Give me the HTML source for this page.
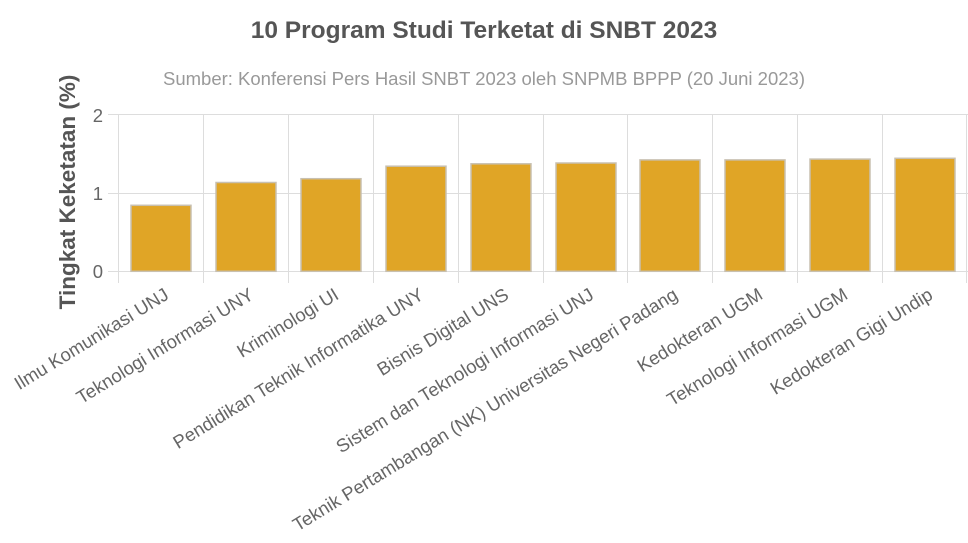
<!DOCTYPE html>
<html><head><style>body{margin:0;background:#fff}svg{display:block}text{font-family:"Liberation Sans",Arial,sans-serif}</style></head>
<body>
<svg width="968" height="543" viewBox="0 0 968 543" xmlns="http://www.w3.org/2000/svg">
<text x="484" y="38" text-anchor="middle" font-size="24.5" font-weight="bold" fill="#555">10 Program Studi Terketat di SNBT 2023</text>
<text x="484" y="85" text-anchor="middle" font-size="18.5" fill="#999">Sumber: Konferensi Pers Hasil SNBT 2023 oleh SNPMB BPPP (20 Juni 2023)</text>
<g stroke="#ddd" stroke-width="1">
<line x1="108" y1="114.5" x2="968" y2="114.5"/>
<line x1="108" y1="193.5" x2="968" y2="193.5"/>
<line x1="108" y1="271.5" x2="968" y2="271.5"/>
<line x1="118.5" y1="114" x2="118.5" y2="283"/>
<line x1="203.5" y1="114" x2="203.5" y2="283"/>
<line x1="288.5" y1="114" x2="288.5" y2="283"/>
<line x1="373.5" y1="114" x2="373.5" y2="283"/>
<line x1="458.5" y1="114" x2="458.5" y2="283"/>
<line x1="543.5" y1="114" x2="543.5" y2="283"/>
<line x1="627.5" y1="114" x2="627.5" y2="283"/>
<line x1="712.5" y1="114" x2="712.5" y2="283"/>
<line x1="797.5" y1="114" x2="797.5" y2="283"/>
<line x1="882.5" y1="114" x2="882.5" y2="283"/>
<line x1="966.5" y1="114" x2="966.5" y2="283"/>
</g>
<g font-size="18.5" fill="#666" text-anchor="end">
<text x="103" y="122">2</text><text x="103" y="200">1</text><text x="103" y="278">0</text>
</g>
<text transform="translate(75,192) rotate(-90)" text-anchor="middle" font-size="22.5" font-weight="bold" fill="#555">Tingkat Keketatan (%)</text>
<g fill="#e0a526" stroke="#c8c0b0" stroke-width="1.5">
<rect x="131" y="205.3" width="60" height="66"/>
<rect x="216" y="182.5" width="60" height="88.8"/>
<rect x="301" y="178.7" width="60" height="92.6"/>
<rect x="386" y="166.2" width="60" height="105.1"/>
<rect x="471" y="163.8" width="60" height="107.5"/>
<rect x="556" y="163" width="60" height="108.3"/>
<rect x="640" y="159.9" width="60" height="111.4"/>
<rect x="725" y="159.9" width="60" height="111.4"/>
<rect x="810" y="159.1" width="60" height="112.2"/>
<rect x="895" y="158.3" width="60" height="113"/>
</g>
<g font-size="18.5" fill="#666" text-anchor="end">
<text transform="translate(170,298) rotate(-31.5)">Ilmu Komunikasi UNJ</text>
<text transform="translate(255,298) rotate(-31.5)">Teknologi Informasi UNY</text>
<text transform="translate(340,298) rotate(-31.5)">Kriminologi UI</text>
<text transform="translate(425,298) rotate(-31.5)">Pendidikan Teknik Informatika UNY</text>
<text transform="translate(510,298) rotate(-31.5)">Bisnis Digital UNS</text>
<text transform="translate(595,298) rotate(-31.5)">Sistem dan Teknologi Informasi UNJ</text>
<text transform="translate(679,298) rotate(-31.5)">Teknik Pertambangan (NK) Universitas Negeri Padang</text>
<text transform="translate(764,298) rotate(-31.5)">Kedokteran UGM</text>
<text transform="translate(849,298) rotate(-31.5)">Teknologi Informasi UGM</text>
<text transform="translate(934,298) rotate(-31.5)">Kedokteran Gigi Undip</text>
</g>
</svg>
</body></html>
